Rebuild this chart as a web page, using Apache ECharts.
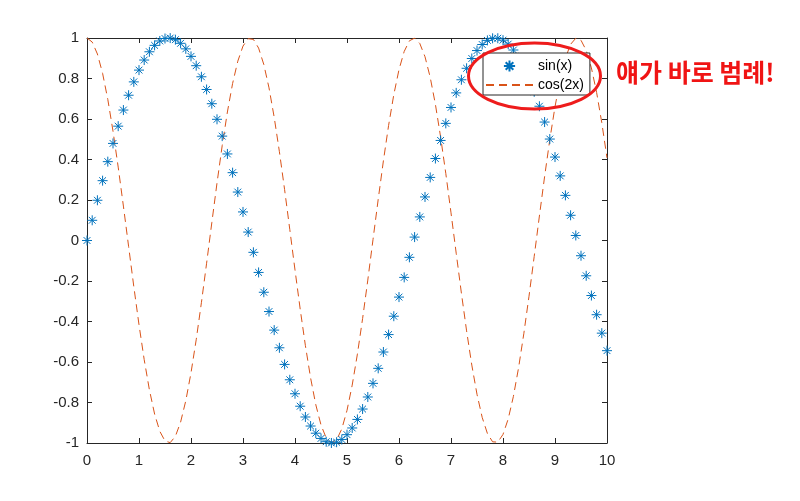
<!DOCTYPE html>
<html><head><meta charset="utf-8">
<script src="https://cdn.jsdelivr.net/npm/echarts@6/dist/echarts.min.js"></script>
<style>html,body{margin:0;padding:0;background:#fff}#c{width:800px;height:501px}</style>
</head><body><div id="c"></div>
<script>
const xValues = [0,0.1,0.2,0.3,0.4,0.5,0.6,0.7,0.8,0.9,1,1.1,1.2,1.3,1.4,1.5,1.6,1.7,1.8,1.9,2,2.1,2.2,2.3,2.4,2.5,2.6,2.7,2.8,2.9,3,3.1,3.2,3.3,3.4,3.5,3.6,3.7,3.8,3.9,4,4.1,4.2,4.3,4.4,4.5,4.6,4.7,4.8,4.9,5,5.1,5.2,5.3,5.4,5.5,5.6,5.7,5.8,5.9,6,6.1,6.2,6.3,6.4,6.5,6.6,6.7,6.8,6.9,7,7.1,7.2,7.3,7.4,7.5,7.6,7.7,7.8,7.9,8,8.1,8.2,8.3,8.4,8.5,8.6,8.7,8.8,8.9,9,9.1,9.2,9.3,9.4,9.5,9.6,9.7,9.8,9.9,10];
const sinValues = [0,0.0998,0.1987,0.2955,0.3894,0.4794,0.5646,0.6442,0.7174,0.7833,0.8415,0.8912,0.932,0.9636,0.9854,0.9975,0.9996,0.9917,0.9738,0.9463,0.9093,0.8632,0.8085,0.7457,0.6755,0.5985,0.5155,0.4274,0.335,0.2392,0.1411,0.0416,-0.0584,-0.1577,-0.2555,-0.3508,-0.4425,-0.5298,-0.6119,-0.6878,-0.7568,-0.8183,-0.8716,-0.9162,-0.9516,-0.9775,-0.9937,-0.9999,-0.9962,-0.9825,-0.9589,-0.9258,-0.8835,-0.8323,-0.7728,-0.7055,-0.6313,-0.5507,-0.4646,-0.3739,-0.2794,-0.1822,-0.0831,0.0168,0.1165,0.2151,0.3115,0.4048,0.4941,0.5784,0.657,0.729,0.7937,0.8504,0.8987,0.938,0.9679,0.9882,0.9985,0.9989,0.9894,0.9699,0.9407,0.9022,0.8546,0.7985,0.7344,0.663,0.5849,0.501,0.4121,0.3191,0.2229,0.1245,0.0248,-0.0752,-0.1743,-0.2718,-0.3665,-0.4575,-0.544];
const cos2xValues = [1,0.9801,0.9211,0.8253,0.6967,0.5403,0.3624,0.17,-0.0292,-0.2272,-0.4161,-0.5885,-0.7374,-0.8569,-0.9422,-0.99,-0.9983,-0.9668,-0.8968,-0.791,-0.6536,-0.4903,-0.3073,-0.1122,0.0875,0.2837,0.4685,0.6347,0.7756,0.8855,0.9602,0.9965,0.9932,0.9502,0.8694,0.7539,0.6084,0.4385,0.2513,0.054,-0.1455,-0.3392,-0.5193,-0.6787,-0.8111,-0.9111,-0.9748,-0.9997,-0.9847,-0.9304,-0.8391,-0.7143,-0.561,-0.3857,-0.1955,0.0044,0.203,0.3935,0.5683,0.7204,0.8439,0.9336,0.9862,0.9994,0.9728,0.9075,0.8059,0.6722,0.5117,0.3308,0.1367,-0.0628,-0.2598,-0.4465,-0.6153,-0.7597,-0.8737,-0.9529,-0.9942,-0.9958,-0.9577,-0.8814,-0.77,-0.6278,-0.4607,-0.2752,-0.0787,0.1209,0.3157,0.498,0.6603,0.7964,0.9006,0.969,0.9988,0.9887,0.9392,0.8523,0.7314,0.5815,0.4081];
const seriesNames = ['sin(x)', 'cos(2x)'];
const annotationText = '얘가 바로 범례!';

const sinData = xValues.map((x, i) => [x, sinValues[i]]);
const cosData = xValues.map((x, i) => [x, cos2xValues[i]]);

const axisColor = '#262626';
const fontFam = '"Liberation Sans", Arial, sans-serif';
const asterisk = 'path://M0 5L10 5M5 0L5 10M1.6 1.6L8.4 8.4M8.4 1.6L1.6 8.4';

function makeX(pos, showLabel) {
  return {
    type: 'value', position: pos, min: 0, max: 10, interval: 1,
    axisLine: { show: true, onZero: false, lineStyle: { color: axisColor, width: 1 } },
    axisTick: { show: true, inside: true, length: 5, lineStyle: { color: axisColor } },
    axisLabel: { show: showLabel, color: axisColor, fontSize: 15, fontFamily: fontFam, margin: 10 },
    splitLine: { show: false }
  };
}
function makeY(pos, showLabel) {
  return {
    type: 'value', position: pos, min: -1, max: 1, interval: 0.2,
    axisLine: { show: true, onZero: false, lineStyle: { color: axisColor, width: 1 } },
    axisTick: { show: true, inside: true, length: 5, lineStyle: { color: axisColor } },
    axisLabel: { show: showLabel, color: axisColor, fontSize: 15, fontFamily: fontFam, margin: 8 },
    splitLine: { show: false }
  };
}

const chart = echarts.init(document.getElementById('c'), null, { renderer: 'canvas' });
chart.setOption({
  animation: false,
  backgroundColor: '#ffffff',
  grid: { left: 87, right: 193, top: 38, bottom: 58, containLabel: false },
  xAxis: [makeX('bottom', true), makeX('top', false)],
  yAxis: [makeY('left', true), makeY('right', false)],
  legend: {
    left: 483, top: 53, orient: 'vertical',
    data: [
      { name: seriesNames[0] },
      { name: seriesNames[1], itemStyle: { opacity: 0 } }
    ],
    selectedMode: false,
    itemWidth: 47, itemHeight: 14, itemGap: 5,
    padding: [6, 6, 3, 2],
    backgroundColor: '#ffffff',
    borderColor: axisColor, borderWidth: 1,
    textStyle: { color: '#000', fontSize: 14, fontFamily: fontFam }
  },
  series: [
    {
      name: seriesNames[0], type: 'line', data: sinData,
      symbol: asterisk, symbolSize: 10, showSymbol: true, showAllSymbol: true,
      lineStyle: { width: 0, opacity: 0 },
      itemStyle: { color: 'rgba(0,0,0,0)', borderColor: '#0072BD', borderWidth: 1 },
      emphasis: { disabled: true }, silent: true, z: 3
    },
    {
      name: seriesNames[1], type: 'line', data: cosData,
      symbol: 'none', showSymbol: false,
      itemStyle: { color: '#D95319', opacity: 0 },
      lineStyle: { color: '#D95319', width: 1, type: [8, 5] },
      emphasis: { disabled: true }, silent: true, z: 2
    }
  ],
  graphic: [
    {
      type: 'ellipse', z: 100,
      shape: { cx: 534.5, cy: 76, rx: 66, ry: 33 },
      style: { fill: 'none', stroke: '#EE1C1C', lineWidth: 3 }
    },
    {
      type: 'text', z: 100, left: 616, top: 60,
      style: { text: annotationText, fill: '#F01414', font: 'bold 25px "Noto Sans CJK KR", sans-serif' }
    }
  ]
});
</script>
</body></html>
